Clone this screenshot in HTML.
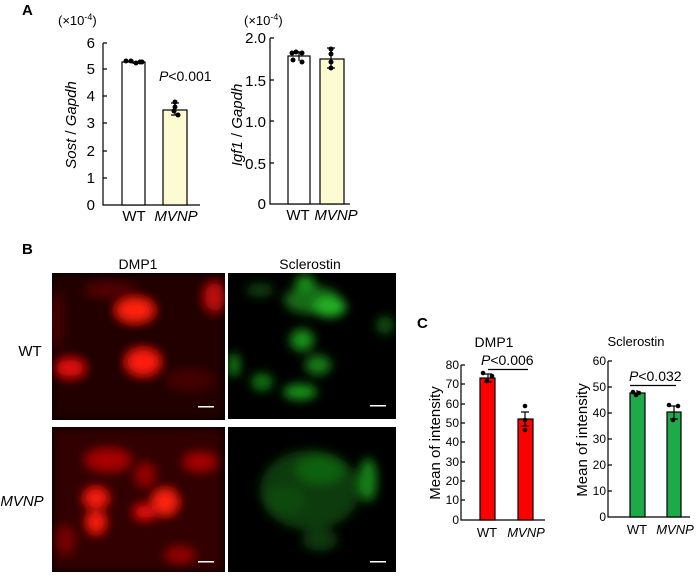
<!DOCTYPE html>
<html><head><style>
body{margin:0;background:#fff;width:700px;height:572px;overflow:hidden;position:relative;font-family:"Liberation Sans",sans-serif;}
</style></head><body>
<svg width="700" height="572" viewBox="0 0 700 572" xmlns="http://www.w3.org/2000/svg" font-family="Liberation Sans, sans-serif">
<defs>
<filter id="b" x="-50%" y="-50%" width="200%" height="200%"><feGaussianBlur stdDeviation="5"/></filter>
<clipPath id="c1"><rect x="52" y="273" width="173" height="147"/></clipPath>
<clipPath id="c2"><rect x="228" y="273" width="168" height="146"/></clipPath>
<clipPath id="c3"><rect x="52" y="427" width="173" height="145"/></clipPath>
<clipPath id="c4"><rect x="228" y="427" width="168" height="145"/></clipPath>
</defs>
<text x="22" y="15" font-size="15" font-weight="bold">A</text>
<text x="22" y="254" font-size="15" font-weight="bold">B</text>
<text x="417" y="328" font-size="15" font-weight="bold">C</text>

<!-- A1 -->
<text x="58" y="25" font-size="13">(×10<tspan font-size="9" dy="-5">-4</tspan><tspan dy="5">)</tspan></text>
<g font-size="15" text-anchor="end">
<text x="95" y="48">6</text><text x="95" y="74">5</text><text x="95" y="101">4</text><text x="95" y="128">3</text><text x="95" y="156">2</text><text x="95" y="183">1</text><text x="95" y="210">0</text>
</g>
<g stroke="#000" stroke-width="1.2" fill="none">
<path d="M103 43V205H200"/>
<path d="M103 43h4M103 69h4M103 96h4M103 123h4M103 151h4M103 178h4"/>
<rect x="122" y="62" width="23" height="143" fill="#fff"/>
<rect x="163" y="110" width="24" height="95" fill="#fdfbd2"/>
<path d="M175 103v12M171 103h8M171 115h8M133 60v4"/>
</g>
<g fill="#000"><circle cx="126" cy="61" r="2.5"/><circle cx="131" cy="61" r="2.5"/><circle cx="136" cy="63" r="2.5"/><circle cx="140" cy="62" r="2.5"/><circle cx="142" cy="62" r="2.5"/>
<circle cx="175" cy="102" r="2.5"/><circle cx="175" cy="107" r="2.5"/><circle cx="174" cy="111" r="2.5"/><circle cx="178" cy="115" r="2.5"/></g>
<text x="159" y="81" font-size="14"><tspan font-style="italic">P</tspan>&lt;0.001</text>
<text transform="translate(76 125) rotate(-90)" font-size="15" text-anchor="middle"><tspan font-style="italic">Sost</tspan> / <tspan font-style="italic">Gapdh</tspan></text>
<text x="134" y="221" font-size="15" text-anchor="middle">WT</text>
<text x="176" y="221" font-size="15" text-anchor="middle" font-style="italic">MVNP</text>

<!-- A2 -->
<text x="244" y="25" font-size="13">(×10<tspan font-size="9" dy="-5">-4</tspan><tspan dy="5">)</tspan></text>
<g font-size="15" text-anchor="end">
<text x="266" y="43">2.0</text><text x="266" y="86">1.5</text><text x="266" y="127">1.0</text><text x="266" y="169">0.5</text><text x="266" y="209">0</text>
</g>
<g stroke="#000" stroke-width="1.2" fill="none">
<path d="M270 38V204H350"/>
<path d="M270 38h4M270 80h4M270 121h4M270 163h4"/>
<rect x="288" y="56" width="22" height="148" fill="#fff"/>
<rect x="320" y="59" width="24" height="145" fill="#fdfbd2"/>
<path d="M299 51v10M331 48v20M327 48h8M327 68h8"/>
</g>
<g fill="#000"><circle cx="292" cy="53" r="2.5"/><circle cx="296" cy="52" r="2.5"/><circle cx="302" cy="53" r="2.5"/><circle cx="293" cy="60" r="2.5"/><circle cx="302" cy="62" r="2.5"/>
<circle cx="331" cy="49" r="2.5"/><circle cx="331" cy="54" r="2.5"/><circle cx="331" cy="62" r="2.5"/><circle cx="331" cy="68" r="2.5"/></g>
<text transform="translate(242 125) rotate(-90)" font-size="15" text-anchor="middle"><tspan font-style="italic">Igf1</tspan> / <tspan font-style="italic">Gapdh</tspan></text>
<text x="298" y="220" font-size="15" text-anchor="middle">WT</text>
<text x="336" y="220" font-size="15" text-anchor="middle" font-style="italic">MVNP</text>

<!-- B -->
<text x="138" y="269" font-size="14" text-anchor="middle">DMP1</text>
<text x="310" y="269" font-size="14" text-anchor="middle">Sclerostin</text>
<text x="30" y="356" font-size="15" text-anchor="middle">WT</text>
<text x="22" y="506" font-size="15" text-anchor="middle" font-style="italic">MVNP</text>
<rect x="52" y="273" width="173" height="147" fill="#000"/>
<rect x="228" y="273" width="168" height="146" fill="#000"/>
<rect x="52" y="427" width="173" height="145" fill="#000"/>
<rect x="228" y="427" width="168" height="145" fill="#000"/>
<g clip-path="url(#c1)"><g filter="url(#b)">
<rect x="52" y="273" width="173" height="147" fill="#200000"/>
<ellipse cx="135" cy="310" rx="18" ry="11" fill="#ff2010"/>
<ellipse cx="143" cy="362" rx="16" ry="12" fill="#ff1a0a"/>
<ellipse cx="70" cy="368" rx="14" ry="8" fill="#e81008"/>
<ellipse cx="215" cy="297" rx="10" ry="14" fill="#c01008"/>
<ellipse cx="110" cy="290" rx="25" ry="7" fill="#500"/>
<ellipse cx="190" cy="380" rx="25" ry="10" fill="#400"/>
<ellipse cx="55" cy="320" rx="8" ry="30" fill="#400"/>
</g></g>
<g clip-path="url(#c3)"><g filter="url(#b)">
<rect x="52" y="427" width="173" height="145" fill="#300000"/>
<ellipse cx="108" cy="460" rx="22" ry="10" fill="#a00"/>
<ellipse cx="96" cy="498" rx="11" ry="9" fill="#ff1a0a"/>
<ellipse cx="165" cy="502" rx="12" ry="12" fill="#ff2010"/>
<ellipse cx="145" cy="512" rx="10" ry="6" fill="#f01008"/>
<ellipse cx="96" cy="522" rx="8" ry="11" fill="#ff1a0a"/>
<ellipse cx="200" cy="462" rx="16" ry="8" fill="#a00"/>
<ellipse cx="145" cy="475" rx="9" ry="11" fill="#900"/>
<ellipse cx="180" cy="555" rx="14" ry="7" fill="#900"/>
<ellipse cx="65" cy="540" rx="9" ry="14" fill="#700"/>
</g></g>
<g clip-path="url(#c2)"><g filter="url(#b)">
<ellipse cx="312" cy="300" rx="28" ry="14" fill="#146a14"/>
<ellipse cx="330" cy="307" rx="16" ry="10" fill="#22b022"/>
<ellipse cx="305" cy="283" rx="10" ry="8" fill="#189018"/>
<ellipse cx="302" cy="340" rx="12" ry="11" fill="#189018"/>
<ellipse cx="300" cy="392" rx="17" ry="8" fill="#189018"/>
<ellipse cx="318" cy="365" rx="13" ry="10" fill="#127a12"/>
<ellipse cx="262" cy="382" rx="11" ry="9" fill="#107010"/>
<ellipse cx="234" cy="365" rx="6" ry="12" fill="#138013"/>
<ellipse cx="385" cy="325" rx="9" ry="9" fill="#0d500d"/>
<ellipse cx="260" cy="290" rx="14" ry="7" fill="#083a08"/>
</g></g>
<g clip-path="url(#c4)"><g filter="url(#b)">
<ellipse cx="310" cy="490" rx="50" ry="40" fill="#083a08"/>
<ellipse cx="320" cy="470" rx="24" ry="14" fill="#0d600d"/>
<ellipse cx="368" cy="480" rx="9" ry="22" fill="#138013"/>
<ellipse cx="285" cy="500" rx="20" ry="14" fill="#0a4a0a"/>
<ellipse cx="320" cy="540" rx="18" ry="11" fill="#073807"/>
</g></g>
<rect x="198" y="406" width="16" height="1.5" fill="#fff"/>
<rect x="370" y="405" width="16" height="1.5" fill="#fff"/>
<rect x="198" y="561" width="16" height="1.5" fill="#fff"/>
<rect x="370" y="561" width="16" height="1.5" fill="#fff"/>

<!-- C1 DMP1 -->
<text x="494" y="347" font-size="14" text-anchor="middle">DMP1</text>
<text x="481" y="365" font-size="14"><tspan font-style="italic">P</tspan>&lt;0.006</text>
<path d="M488 369.5H528" stroke="#000" stroke-width="1.2"/>
<g font-size="12" text-anchor="end">
<text x="459" y="369">80</text><text x="459" y="388">70</text><text x="459" y="408">60</text><text x="459" y="427">50</text><text x="459" y="446">40</text><text x="459" y="466">30</text><text x="459" y="485">20</text><text x="459" y="504">10</text><text x="459" y="524">0</text>
</g>
<g stroke="#000" stroke-width="1.2" fill="none">
<path d="M461 365V520H545"/>
<path d="M461 365h4M461 384h4M461 404h4M461 423h4M461 442h4M461 462h4M461 481h4M461 500h4"/>
<rect x="480" y="378" width="15" height="142" fill="#ff0000"/>
<rect x="518" y="419" width="15" height="101" fill="#ff0000"/>
<path d="M488 374v8M484 374h8M484 382h8M525 412v14M521 412h8M521 426h8"/>
</g>
<g fill="#000"><circle cx="483" cy="373" r="2.3"/><circle cx="492" cy="376" r="2.3"/><circle cx="487" cy="381" r="2.3"/><circle cx="525" cy="406" r="2.3"/><circle cx="525" cy="420" r="2.3"/><circle cx="525" cy="430" r="2.3"/></g>
<text transform="translate(440 443) rotate(-90)" font-size="15" text-anchor="middle">Mean of intensity</text>
<text x="487" y="537" font-size="13" text-anchor="middle">WT</text>
<text x="526" y="537" font-size="13" text-anchor="middle" font-style="italic">MVNP</text>

<!-- C2 Sclerostin -->
<text x="636" y="346" font-size="13" text-anchor="middle">Sclerostin</text>
<text x="629" y="381" font-size="14"><tspan font-style="italic">P</tspan>&lt;0.032</text>
<path d="M630 385.5H676" stroke="#000" stroke-width="1.2"/>
<g font-size="12" text-anchor="end">
<text x="606" y="365">60</text><text x="606" y="391">50</text><text x="606" y="417">40</text><text x="606" y="443">30</text><text x="606" y="469">20</text><text x="606" y="495">10</text><text x="606" y="521">0</text>
</g>
<g stroke="#000" stroke-width="1.2" fill="none">
<path d="M608 361V517H690"/>
<path d="M608 361h4M608 387h4M608 413h4M608 439h4M608 465h4M608 491h4"/>
<rect x="630" y="393" width="15" height="124" fill="#1faa4a"/>
<rect x="667" y="412" width="14" height="105" fill="#1faa4a"/>
<path d="M637 390v6M674 406v13M670 406h8M670 419h8"/>
</g>
<g fill="#000"><circle cx="633" cy="392" r="2.3"/><circle cx="639" cy="393" r="2.3"/><circle cx="636" cy="395" r="2.3"/><circle cx="669" cy="405" r="2.3"/><circle cx="678" cy="406" r="2.3"/><circle cx="673" cy="420" r="2.3"/></g>
<text transform="translate(587 440) rotate(-90)" font-size="15" text-anchor="middle">Mean of intensity</text>
<text x="637" y="534" font-size="13" text-anchor="middle">WT</text>
<text x="675" y="534" font-size="13" text-anchor="middle" font-style="italic">MVNP</text>
</svg>
</body></html>
